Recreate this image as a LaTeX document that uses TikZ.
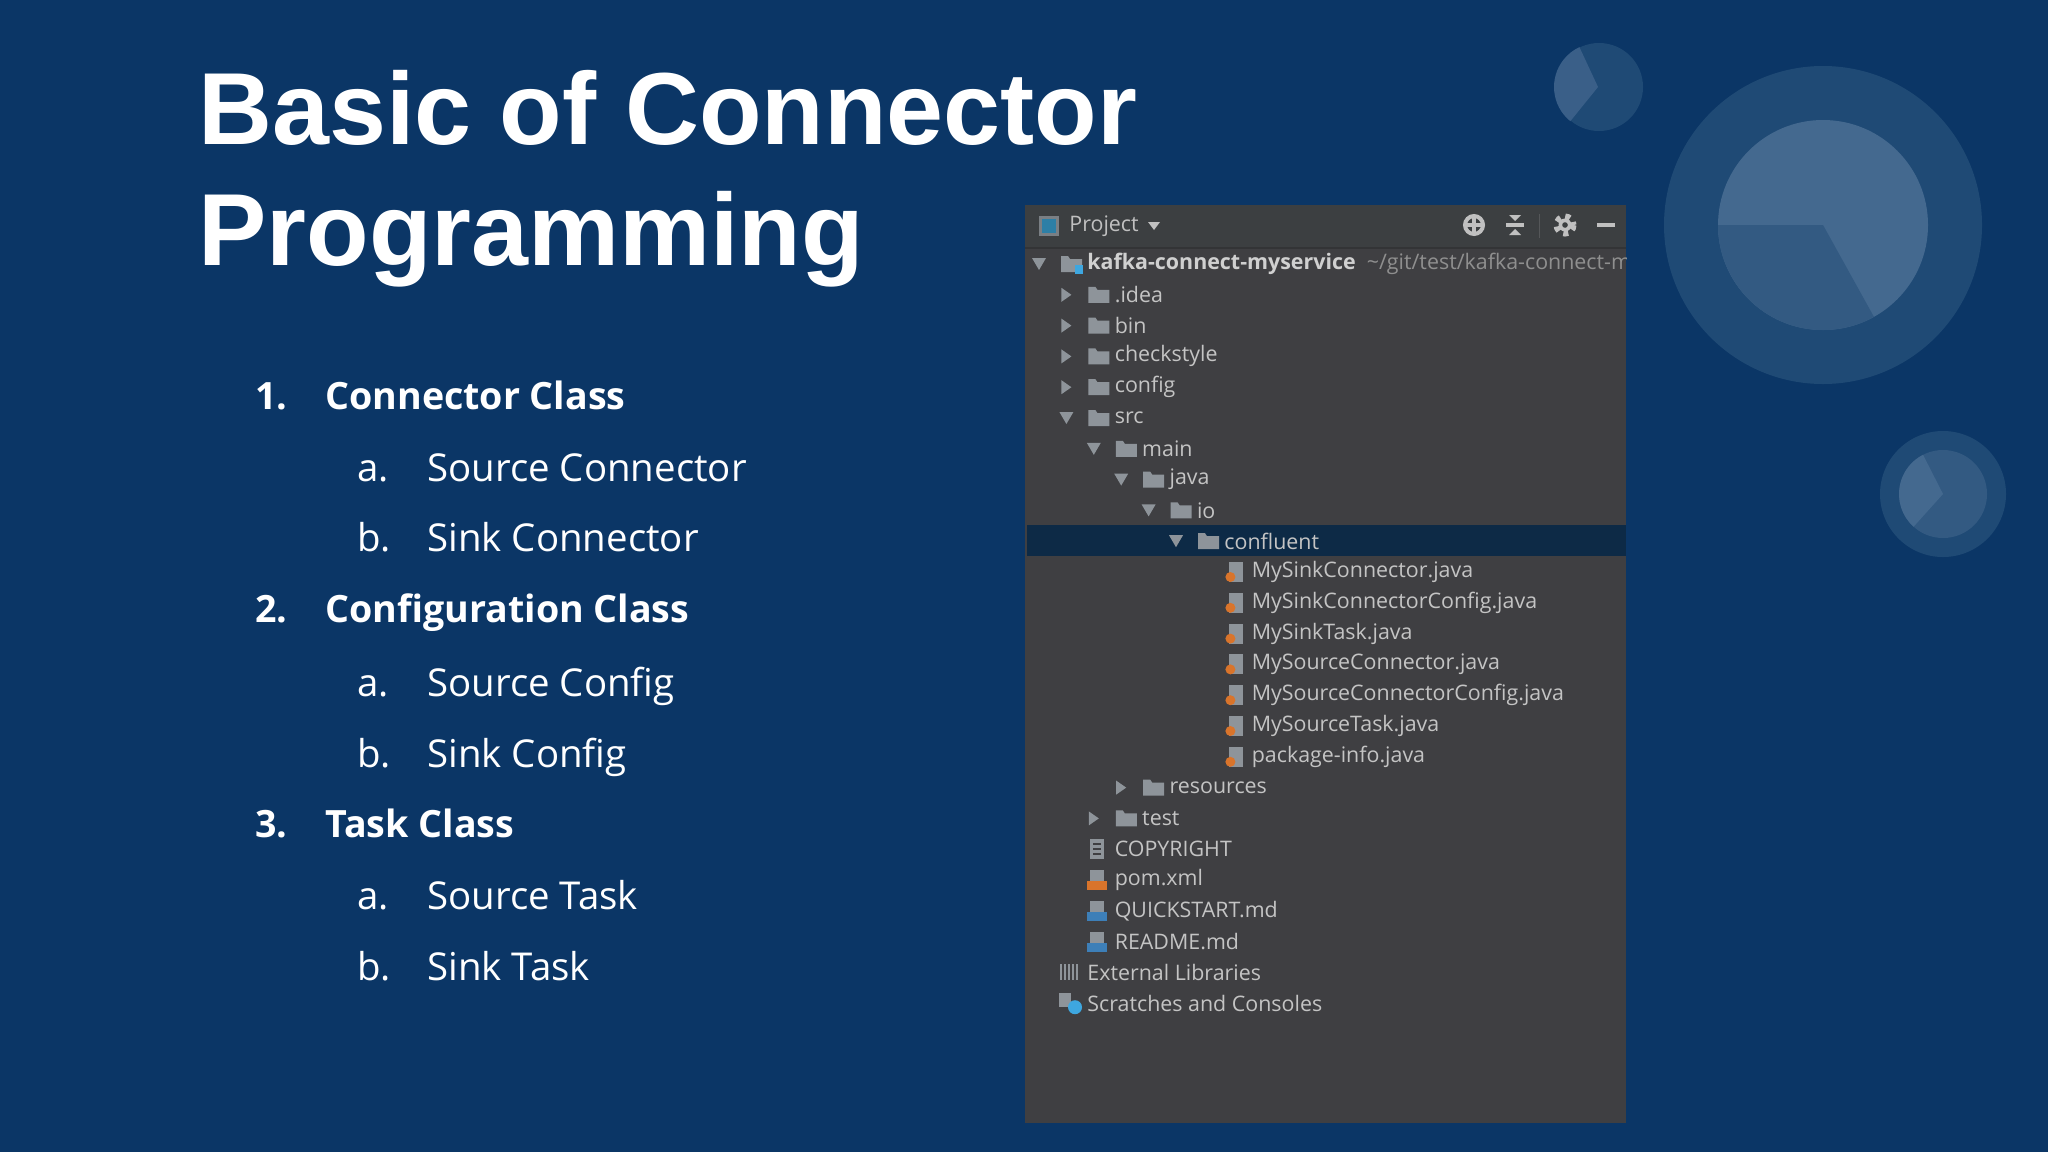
\documentclass[tikz,border=0pt]{standalone}
\usepackage{fontspec}
\setmainfont{Open Sans}
\newfontfamily\titlefont{Liberation Sans}
\newfontfamily\treefont{Open Sans}
\definecolor{bg}{HTML}{0B3666}
\definecolor{ring}{HTML}{1F4A75}
\definecolor{inner}{HTML}{44698F}
\definecolor{innerdk}{HTML}{335A82}
\definecolor{smallwedge}{HTML}{3A5F88}
\definecolor{panel}{HTML}{3F3F42}
\definecolor{panelhd}{HTML}{3C3F41}
\definecolor{panelline}{HTML}{333436}
\definecolor{sel}{HTML}{0D2A46}
\definecolor{treetx}{HTML}{C4C4C4}
\definecolor{iconc}{HTML}{8E949A}
\definecolor{hdicon}{HTML}{C0C0C0}
\definecolor{hdsep}{HTML}{555759}
\definecolor{jorange}{HTML}{D9742B}
\definecolor{mdblue}{HTML}{3D7FB8}
\definecolor{cyanb}{HTML}{3EA7E0}
\definecolor{projframe}{HTML}{7A7F84}
\definecolor{projfill}{HTML}{2D7FA6}
\definecolor{boldtx}{HTML}{D0D0D0}
\definecolor{pathtx}{HTML}{8F8F8F}
\tikzset{
  title/.style={anchor=base west,text=white,font=\titlefont\bfseries\fontsize{51.2}{60}\selectfont,inner sep=0},
  mainitem/.style={anchor=base west,text=white,font=\bfseries\fontsize{18.8}{22}\selectfont,inner sep=0},
  subitem/.style={anchor=base west,text=white,font=\fontsize{19.2}{24}\selectfont,inner sep=0},
  treetext/.style={anchor=west,text=treetx,font=\treefont\fontsize{10.7}{12}\selectfont,inner sep=0},
}
\newcommand\trow[5]{% index, level, arrow(0 none,1 right,2 down), icon, text
  \pgfmathsetmacro\ry{264+30.8*#1}
  \pgfmathsetmacro\tx{1087+27.4*#2}
  \ifnum#3=1
    \fill[iconc] (\tx-53,\ry-7) -- (\tx-53,\ry+7) -- (\tx-43,\ry) -- cycle;
  \fi
  \ifnum#3=2
    \fill[iconc] (\tx-55,\ry-6) -- (\tx-41,\ry-6) -- (\tx-48,\ry+6) -- cycle;
  \fi
  \ifcase#4
  \or % 1 folder
    \fill[iconc] (\tx-26,\ry-8) -- (\tx-19,\ry-8) -- (\tx-17,\ry-5) -- (\tx-5,\ry-5) -- (\tx-5,\ry+8) -- (\tx-26,\ry+8) -- cycle;
  \or % 2 java file
    \fill[iconc] (\tx-22,\ry-10) rectangle (\tx-8,\ry+10);
    \fill[jorange] (\tx-21,\ry+5) circle (5);
  \or % 3 text file
    \fill[iconc] (\tx-24,\ry-10) rectangle (\tx-10,\ry+10);
    \foreach \k in {-5,0,5}{\draw[panel,line width=1.2] (\tx-21,\ry+\k) -- (\tx-13,\ry+\k);}
  \or % 4 xml
    \fill[iconc] (\tx-24,\ry-10) rectangle (\tx-10,\ry+2);
    \fill[jorange] (\tx-27,\ry+1) rectangle (\tx-7,\ry+10);
  \or % 5 md
    \fill[iconc] (\tx-24,\ry-10) rectangle (\tx-10,\ry+2);
    \fill[mdblue] (\tx-27,\ry+1) rectangle (\tx-7,\ry+10);
  \or % 6 module
    \fill[iconc] (\tx-26,\ry-8) -- (\tx-19,\ry-8) -- (\tx-17,\ry-5) -- (\tx-5,\ry-5) -- (\tx-5,\ry+8) -- (\tx-26,\ry+8) -- cycle;
    \fill[cyanb] (\tx-12,\ry+1) rectangle (\tx-4,\ry+10);
  \or % 7 libs
    \foreach \k in {0,4,8,12,16}{\fill[iconc] (\tx-27+\k,\ry-8) rectangle (\tx-25+\k,\ry+8);}
  \or % 8 scratches
    \fill[iconc] (\tx-28,\ry-10) rectangle (\tx-16,\ry+4);
    \fill[cyanb] (\tx-12,\ry+4) circle (7);
  \fi
  \node[treetext] (r#1) at (\tx,\ry) {#5};
}
\begin{document}
\begin{tikzpicture}[x=0.5pt,y=-0.5pt]
\fill[bg] (0,0) rectangle (2048,1152);
\useasboundingbox (0,0) rectangle (2048,1152);
% decorative circles
\fill[ring] (1599,87) circle (44);
\fill[smallwedge] (1598,87) -- ++(129:44) arc[start angle=129,end angle=245,radius=44] -- cycle;
\fill[ring] (1823,225) circle (159);
\fill[inner] (1823,225) circle (105);
\fill[innerdk] (1823,225) -- ++(180:105) arc[start angle=180,end angle=61,radius=105] -- cycle;
\fill[ring] (1943,494) circle (63);
\fill[innerdk] (1943,494) circle (44);
\fill[inner] (1943,494) -- ++(132:44) arc[start angle=132,end angle=243,radius=44] -- cycle;
% title
\node[title] (t1) at (198,144) {Basic of Connector};
\node[title] (t2) at (198,265) {Programming};
% list
\node[mainitem] (n1) at (255,409) {1.};
\node[mainitem] (m1) at (325,409) {Connector Class};
\node[subitem] (l1a) at (357,481) {a.};
\node[subitem] (s1a) at (427,481) {Source Connector};
\node[subitem] (l1b) at (357,551) {b.};
\node[subitem] (s1b) at (427,551) {Sink Connector};
\node[mainitem] (n2) at (255,622) {2.};
\node[mainitem] (m2) at (325,622) {Configuration Class};
\node[subitem] (l2a) at (357,696) {a.};
\node[subitem] (s2a) at (427,696) {Source Config};
\node[subitem] (l2b) at (357,767) {b.};
\node[subitem] (s2b) at (427,767) {Sink Config};
\node[mainitem] (n3) at (255,837) {3.};
\node[mainitem] (m3) at (325,837) {Task Class};
\node[subitem] (l3a) at (357,909) {a.};
\node[subitem] (s3a) at (427,909) {Source Task};
\node[subitem] (l3b) at (357,980) {b.};
\node[subitem] (s3b) at (427,980) {Sink Task};
% panel
\fill[panel] (1025,205) rectangle (1626,1123);
\fill[panelhd] (1025,205) rectangle (1626,248);
\draw[panelline,line width=1] (1025,248) -- (1626,248);
\fill[sel] (1027,525) rectangle (1626,556);
% header
\fill[projframe] (1039,216) rectangle (1059,236);
\fill[projfill] (1042,219) rectangle (1056,233);
\node[treetext,text=hdicon] (hp) at (1069,226) {Project};
\fill[hdicon] (1148,222) -- (1160,222) -- (1154,230) -- cycle;
\draw[hdicon,line width=2] (1474,225) circle (9);
\draw[hdicon,line width=1.6] (1465,225) -- (1483,225) (1474,216) -- (1474,234);
\draw[hdicon,line width=1.6] (1506,225) -- (1524,225);
\fill[hdicon] (1509,215) -- (1521,215) -- (1515,221) -- cycle (1509,235) -- (1521,235) -- (1515,229) -- cycle;
\draw[hdsep] (1539,214) -- (1539,238);
\draw[hdicon,line width=3,dash pattern=on 2.5 off 2.5] (1565,225) circle (8.5);
\fill[hdicon] (1565,225) circle (6.5);
\fill[panelhd] (1565,225) circle (2.8);
\draw[hdicon,line width=2] (1597,225) -- (1615,225);
% tree
\begin{scope}
\clip (1025,249) rectangle (1626,1123);
\trow{0}{0}{2}{6}{\textcolor{boldtx}{\bfseries kafka-connect-myservice}\ \ \textcolor{pathtx}{\textasciitilde/git/test/kafka-connect-m}}
\trow{1}{1}{1}{1}{.idea}
\trow{2}{1}{1}{1}{bin}
\trow{3}{1}{1}{1}{checkstyle}
\trow{4}{1}{1}{1}{config}
\trow{5}{1}{2}{1}{src}
\trow{6}{2}{2}{1}{main}
\trow{7}{3}{2}{1}{java}
\trow{8}{4}{2}{1}{io}
\trow{9}{5}{2}{1}{confluent}
\trow{10}{6}{0}{2}{MySinkConnector.java}
\trow{11}{6}{0}{2}{MySinkConnectorConfig.java}
\trow{12}{6}{0}{2}{MySinkTask.java}
\trow{13}{6}{0}{2}{MySourceConnector.java}
\trow{14}{6}{0}{2}{MySourceConnectorConfig.java}
\trow{15}{6}{0}{2}{MySourceTask.java}
\trow{16}{6}{0}{2}{package-info.java}
\trow{17}{3}{1}{1}{resources}
\trow{18}{2}{1}{1}{test}
\trow{19}{1}{0}{3}{COPYRIGHT}
\trow{20}{1}{0}{4}{pom.xml}
\trow{21}{1}{0}{5}{QUICKSTART.md}
\trow{22}{1}{0}{5}{README.md}
\trow{23}{0}{0}{7}{External Libraries}
\trow{24}{0}{0}{8}{Scratches and Consoles}
\end{scope}
\end{tikzpicture}
\end{document}
